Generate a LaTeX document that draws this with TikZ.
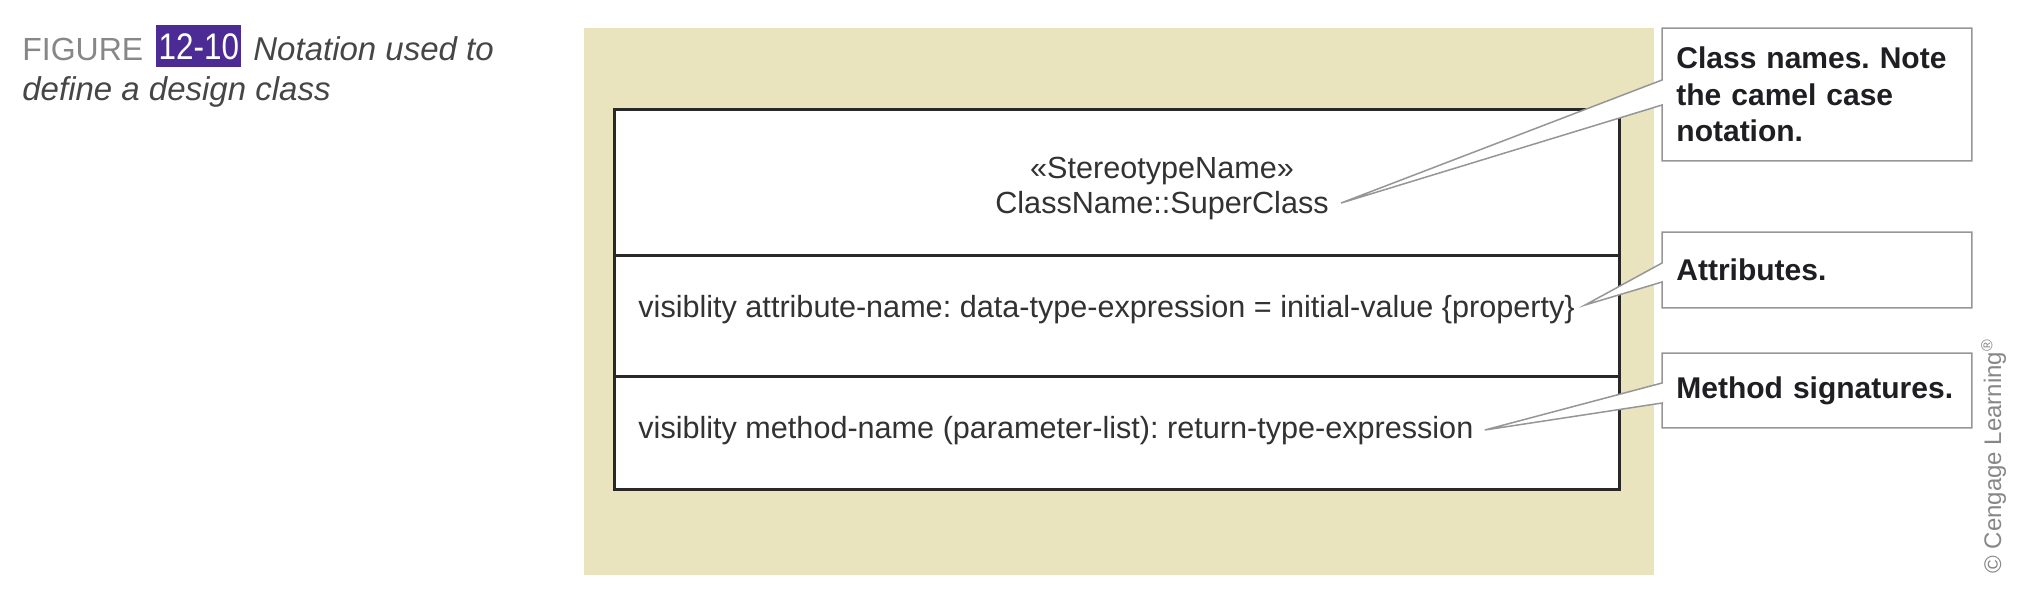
\documentclass[tikz,border=0pt]{standalone}
\usepackage{fontspec}
\setmainfont{Liberation Sans}
\usepackage{tikz}
\usetikzlibrary{positioning,calc}
\frenchspacing

\definecolor{tanbg}{RGB}{233,227,190}
\definecolor{boxline}{RGB}{40,40,40}
\definecolor{noteline}{RGB}{150,150,150}
\definecolor{classtext}{RGB}{50,50,50}
\definecolor{notetext}{RGB}{30,30,35}
\definecolor{figpurple}{RGB}{76,44,148}
\definecolor{figgray}{RGB}{135,135,135}
\definecolor{titlegray}{RGB}{70,70,70}

\pgfdeclarelayer{background}
\pgfdeclarelayer{callout}
\pgfsetlayers{background,callout,main}

\tikzset{
  part/.style={draw=boxline, line width=1.5pt, fill=white, minimum width=502.5pt,
    inner sep=0pt, outer sep=0pt},
  classtxt/.style={inner sep=0pt, text=classtext, font=\fontsize{15.3}{18}\selectfont},
  notebox/.style={rectangle, anchor=north west, minimum width=154.5pt, text width=140.5pt,
    inner xsep=7pt, inner ysep=0pt, align=left, text=notetext,
    font=\fontsize{15}{18.25}\selectfont\bfseries},
  callout/.style={draw=noteline, line width=0.75pt, fill=white, line join=miter},
}

\begin{document}
\begin{tikzpicture}[x=0.5pt, y=-0.5pt]
\useasboundingbox (0,0) rectangle (2022,590);

% caption
\node[anchor=base west, inner sep=0pt, text=figgray, font=\fontsize{16}{20}\selectfont] (figword) at (22,60) {FIGURE};
\node[anchor=north west, fill=figpurple, text=white, inner sep=0pt, minimum width=42.5pt, minimum height=21pt,
  font=\fontsize{18.5}{20}\selectfont] (fignum) at (156,25) {\scalebox{0.85}[1]{12-10}};
\node[anchor=base west, inner sep=0pt, text=titlegray, font=\fontsize{16.5}{20}\selectfont\itshape] (figline1) at (253,60) {Notation used to};
\node[anchor=base west, inner sep=0pt, text=titlegray, font=\fontsize{16.5}{20}\selectfont\itshape] (figline2) at (22,100) {define a design class};

% panel and class box
\begin{pgfonlayer}{background}
\fill[tanbg] (584,28) rectangle (1654,575);
\node[part, anchor=north west, minimum height=73pt] (namepart) at (614,109) {};
\node[part, below=0pt of namepart, minimum height=60.5pt] (attrpart) {};
\node[part, below=0pt of attrpart, minimum height=56.5pt] (oppart) {};
\end{pgfonlayer}

\node[classtxt, anchor=base] (stereo) at (1162,178) {«StereotypeName»};
\node[classtxt, anchor=base] (cname) at (1162,213) {ClassName::SuperClass};
\node[classtxt, anchor=base west] (attrtxt) at (638,317) {visiblity attribute-name: data-type-expression = initial-value \{property\}};
\node[classtxt, anchor=base west] (optxt) at (638,438) {visiblity method-name (parameter-list): return-type-expression};

\coordinate (nametip) at ($(cname.base east)+(12,-10)$);
\coordinate (attrtip) at ($(attrtxt.base east)+(10,-12)$);
\coordinate (optip) at ($(optxt.base east)+(11,-8)$);

% notes
\node[notebox, minimum height=66pt] (namebox) at (1662,28) {Class names. Note\\the camel case\\notation.};
\node[notebox, minimum height=37.5pt] (attrbox) at (1662,232) {Attributes.};
\node[notebox, minimum height=37pt] (opbox) at (1662,353) {Method signatures.};

\begin{pgfonlayer}{callout}
\draw[callout] ($(namebox.north west)+(0,52)$) -- (namebox.north west) -- (namebox.north east)
  -- (namebox.south east) -- (namebox.south west) -- ($(namebox.north west)+(0,77)$) -- (nametip) -- cycle;
\draw[callout] ($(attrbox.north west)+(0,31)$) -- (attrbox.north west) -- (attrbox.north east)
  -- (attrbox.south east) -- (attrbox.south west) -- ($(attrbox.north west)+(0,50)$) -- (attrtip) -- cycle;
\draw[callout] ($(opbox.north west)+(0,30)$) -- (opbox.north west) -- (opbox.north east)
  -- (opbox.south east) -- (opbox.south west) -- ($(opbox.north west)+(0,50)$) -- (optip) -- cycle;
\end{pgfonlayer}

\node[rotate=90, anchor=base west, inner sep=0pt, text=figgray, font=\fontsize{12}{14}\selectfont] (copyr) at (2001,574) {© Cengage Learning\textsuperscript{®}};
\end{tikzpicture}
\end{document}
